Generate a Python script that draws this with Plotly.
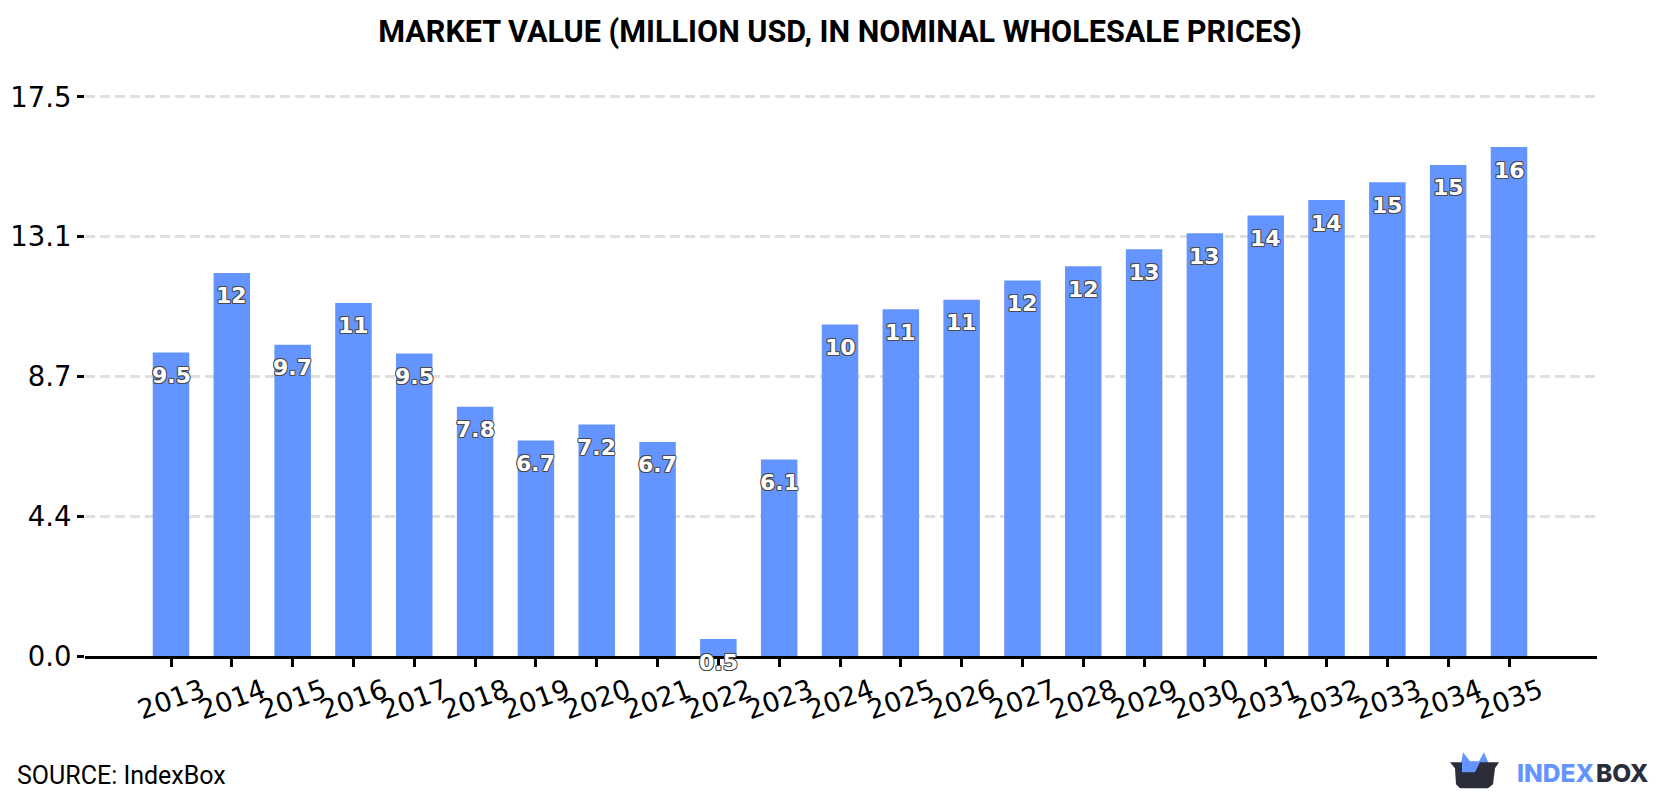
import plotly.graph_objects as go

years = [2013, 2014, 2015, 2016, 2017, 2018, 2019, 2020, 2021, 2022, 2023, 2024,
         2025, 2026, 2027, 2028, 2029, 2030, 2031, 2032, 2033, 2034, 2035]
market_value = [9.5, 11.99, 9.74, 11.05, 9.47, 7.8, 6.749, 7.249, 6.7, 0.53, 6.149, 10.38,
                10.85, 11.15, 11.75, 12.2, 12.73, 13.23, 13.79, 14.27, 14.83, 15.37, 15.93]
y_tick_vals = [0, 4.375, 8.75, 13.125, 17.5]
y_tick_text = ["0.0", "4.4", "8.7", "13.1", "17.5"]

WIDTH, HEIGHT = 1680, 800
PLOT_LEFT, PLOT_RIGHT = 85, 1597
PLOT_TOP, PLOT_BOTTOM = 94.6, 656.5
BAR_BLUE = "#6394FF"
INK = "#2B2D3B"
OUTLINE = ("-1px 0 #4A4A4A, 1px 0 #4A4A4A, 0 -1px #4A4A4A, 0 1px #4A4A4A, "
           "-0.7px -0.7px #4A4A4A, 0.7px -0.7px #4A4A4A, -0.7px 0.7px #4A4A4A, 0.7px 0.7px #4A4A4A")


def value_label(v):
    # One decimal below ten, whole numbers above
    return f"{v:.1f}" if v < 10 else f"{v:.0f}"


def paper_x(px):
    return (px - PLOT_LEFT) / (PLOT_RIGHT - PLOT_LEFT)


def paper_y(py):
    return (PLOT_BOTTOM - py) / (PLOT_BOTTOM - PLOT_TOP)


def px_path(points):
    # Closed SVG path in paper coordinates from pixel positions on the page
    parts = [f"{paper_x(x):.5f},{paper_y(y):.5f}" for x, y in points]
    return "M" + " L".join(parts) + " Z"


fig = go.Figure(go.Bar(x=years, y=market_value, width=0.6,
                       marker=dict(color=BAR_BLUE, line_width=0)))

# Value labels sit just under each bar's top and may overflow the bar
annotations = [
    dict(x=yr, y=v, xref="x", yref="y", text=value_label(v), showarrow=False,
         yanchor="middle", yshift=-23,
         font=dict(family="DejaVu Sans", size=22, color="white", weight="bold",
                   shadow=OUTLINE))
    for yr, v in zip(years, market_value)
]
annotations += [
    dict(x=paper_x(17), y=paper_y(776), xref="paper", yref="paper", xanchor="left",
         yanchor="middle", text="SOURCE: IndexBox", showarrow=False, xshift=-2,
         font=dict(family="Roboto", size=25, color="black")),
    dict(x=paper_x(1517), y=paper_y(774), xref="paper", yref="paper", xanchor="left",
         yanchor="middle", text="INDEX", showarrow=False, xshift=-2,
         font=dict(family="Inter", size=24.5, color=BAR_BLUE, weight=800)),
    dict(x=paper_x(1649), y=paper_y(774), xref="paper", yref="paper", xanchor="right",
         yanchor="middle", text="BOX", showarrow=False, xshift=2,
         font=dict(family="Inter", size=24.5, color=INK, weight=800)),
]

# Box-shaped logo mark
logo_ears = [(1461, 765), (1463, 753), (1470, 762), (1479, 762), (1484, 753),
             (1489, 765), (1480, 775), (1461, 775)]
logo_box = [(1450, 763), (1462, 763), (1462, 773), (1475, 773), (1480, 763), (1499, 763),
            (1495, 769), (1493, 785), (1488, 789), (1460, 789), (1456, 785), (1455, 769)]
shapes = [
    dict(type="path", xref="paper", yref="paper", path=px_path(logo_ears),
         fillcolor=BAR_BLUE, line_width=0),
    dict(type="path", xref="paper", yref="paper", path=px_path(logo_box),
         fillcolor=INK, line_width=0),
]

fig.update_layout(
    width=WIDTH, height=HEIGHT,
    margin=dict(l=PLOT_LEFT, r=WIDTH - PLOT_RIGHT, t=PLOT_TOP, b=HEIGHT - PLOT_BOTTOM,
                autoexpand=False),
    paper_bgcolor="white", plot_bgcolor="white",
    showlegend=False,
    title=dict(text="<b>MARKET VALUE (MILLION USD, IN NOMINAL WHOLESALE PRICES)</b>",
               x=0.5, xanchor="center", y=1 - 31 / HEIGHT, yanchor="middle",
               font=dict(family="Roboto", size=30.6, color="black")),
    annotations=annotations, shapes=shapes,
)
fig.update_xaxes(
    range=[2011.586, 2036.447], tickmode="array", tickvals=years,
    ticktext=[str(y) for y in years],
    tickangle=-20, ticklabelshift=31, ticklabelstandoff=-2, showgrid=False, zeroline=False,
    showline=True, linecolor="black", linewidth=2.5,
    ticks="outside", ticklen=8, tickwidth=2.5, tickcolor="black",
    tickfont=dict(family="DejaVu Sans", size=27, color="black"),
)
fig.update_yaxes(
    range=[0, 17.56], tickmode="array", tickvals=y_tick_vals, ticktext=y_tick_text,
    showgrid=True, gridcolor="#E0E0E0", gridwidth=3, griddash="10px,5px",
    zeroline=False, showline=False,
    ticks="outside", ticklen=7, tickwidth=2.5, tickcolor="black",
    tickfont=dict(family="DejaVu Sans", size=27.5, color="black"),
)

fig.write_html("out.html")
